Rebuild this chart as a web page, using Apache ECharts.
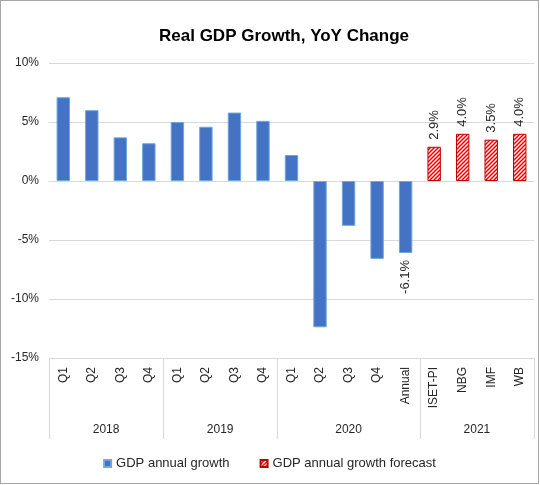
<!DOCTYPE html>
<html>
<head>
<meta charset="utf-8">
<script src="https://cdn.jsdelivr.net/npm/echarts@6/dist/echarts.min.js"></script>
<style>
  html, body { margin: 0; padding: 0; background: #fff; }
  #main { width: 539px; height: 484px; box-sizing: border-box; border: 1px solid #a6a6a6; }
</style>
</head>
<body>
<div id="main"></div>
<script>
// categories and values
var quarters = ['Q1','Q2','Q3','Q4','Q1','Q2','Q3','Q4','Q1','Q2','Q3','Q4','Annual','ISET-PI','NBG','IMF','WB'];
var years = ['2018','2019','2020','2021'];
var yearSpans = [4, 4, 5, 4];
var actual = [7.1, 6.0, 3.7, 3.2, 5.0, 4.6, 5.8, 5.1, 2.2, -12.4, -3.8, -6.6, -6.1];
var forecast = [2.9, 4.0, 3.5, 4.0];
var yTicks = [-15, -10, -5, 0, 5, 10];

var font = 'Liberation Sans, Arial, sans-serif';
var txt = '#262626';

// year group boundaries and label centres
var bounds = [], centres = {};
var pos = 0;
yearSpans.forEach(function (s, i) {
  bounds.push(pos);
  centres[pos + s / 2] = years[i];
  pos += s;
});

// hatch pattern for forecast bars
var hatch = document.createElement('canvas');
hatch.width = 4; hatch.height = 4;
var hc = hatch.getContext('2d');
hc.fillStyle = '#ffffff';
hc.fillRect(0, 0, 4, 4);
hc.strokeStyle = '#e00000';
hc.lineWidth = 1.5;
hc.beginPath();
hc.moveTo(-1, 5); hc.lineTo(5, -1);
hc.moveTo(-1, 1); hc.lineTo(1, -1);
hc.moveTo(3, 5); hc.lineTo(5, 3);
hc.stroke();

var actualData = quarters.map(function (q, i) {
  if (i >= actual.length) return '-';
  if (i === actual.length - 1) {
    return {
      value: actual[i],
      label: { show: true, position: 'bottom', rotate: 90, align: 'right', verticalAlign: 'middle', distance: 7 }
    };
  }
  return actual[i];
});
var forecastData = quarters.map(function (q, i) {
  var j = i - actual.length;
  return j >= 0 ? forecast[j] : '-';
});

var myChart = echarts.init(document.getElementById('main'));
var option = {
  animation: false,
  textStyle: { fontFamily: font },
  title: {
    text: 'Real GDP Growth, YoY Change',
    left: 153,
    top: 22,
    textStyle: { fontFamily: font, fontSize: 17, fontWeight: 'bold', color: '#000' }
  },
  legend: {
    top: 451,
    left: 'center',
    icon: 'rect',
    itemWidth: 7,
    itemHeight: 7,
    itemGap: 30,
    textStyle: { fontFamily: font, fontSize: 13, color: txt },
    data: ['GDP annual growth', 'GDP annual growth forecast']
  },
  grid: { left: 48, right: 4, top: 62, bottom: 125 },
  xAxis: [{
    type: 'category',
    data: quarters,
    axisLine: { show: false, onZero: false },
    axisTick: {
      show: true,
      length: 81,
      alignWithLabel: false,
      interval: function (index) { return bounds.indexOf(index) >= 0; },
      lineStyle: { color: '#d9d9d9' }
    },
    axisLabel: {
      interval: 0,
      rotate: 90,
      margin: 9,
      fontSize: 12,
      color: txt,
      fontFamily: font
    }
  }, {
    type: 'value',
    position: 'bottom',
    min: 0,
    max: quarters.length,
    interval: 0.5,
    axisLine: { show: false },
    axisTick: { show: false },
    splitLine: { show: false },
    axisLabel: {
      margin: 66,
      fontSize: 12,
      color: txt,
      fontFamily: font,
      showMinLabel: true,
      showMaxLabel: true,
      formatter: function (v) { return centres[v] || ''; }
    }
  }],
  yAxis: {
    type: 'value',
    min: yTicks[0],
    max: yTicks[yTicks.length - 1],
    interval: 5,
    axisLine: { show: false },
    axisTick: { show: false },
    splitLine: { lineStyle: { color: '#d9d9d9' } },
    axisLabel: { formatter: '{value}%', fontSize: 12, color: txt, margin: 10, fontFamily: font }
  },
  series: [{
    name: 'GDP annual growth',
    type: 'bar',
    xAxisIndex: 0,
    data: actualData,
    barWidth: '47%',
    barGap: '-100%',
    itemStyle: { color: '#4472c4', borderColor: '#6fa8dc', borderWidth: 1 },
    label: { show: false, formatter: function (p) { return p.value.toFixed(1) + '%'; }, fontSize: 13, color: txt, fontFamily: font }
  }, {
    name: 'GDP annual growth forecast',
    type: 'bar',
    xAxisIndex: 0,
    data: forecastData,
    barWidth: '47%',
    barGap: '-100%',
    itemStyle: { color: { image: hatch, repeat: 'repeat' }, borderColor: '#c00000', borderWidth: 1 },
    label: {
      show: true,
      position: 'top',
      rotate: 90,
      align: 'left',
      verticalAlign: 'middle',
      distance: 7,
      fontSize: 13,
      color: txt,
      fontFamily: font,
      formatter: function (p) { return p.value.toFixed(1) + '%'; }
    }
  }]
};
myChart.setOption(option);
</script>
</body>
</html>
